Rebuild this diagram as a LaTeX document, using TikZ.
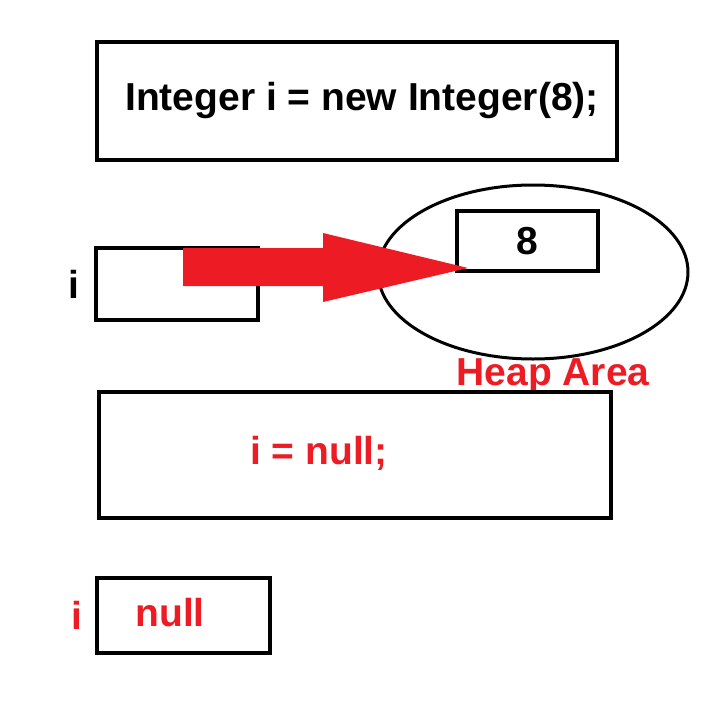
\documentclass[tikz,border=0pt]{standalone}
\usepackage{fontspec}
\setmainfont{Liberation Sans}
\usetikzlibrary{shapes.geometric, positioning}
\definecolor{paintred}{HTML}{ED1C24}

\begin{document}
\begin{tikzpicture}[
  x=1pt, y=-1pt,
  every node/.style={font=\fontsize{39}{41}\selectfont\bfseries, inner sep=0pt},
  membox/.style={draw=black, line width=3.5pt},
  redtxt/.style={text=paintred}
]
\useasboundingbox (0,0) rectangle (720,720);
% statement boxes
\node[membox, minimum width=520, minimum height=118] (decl) at (357,101) {};
\node (decltxt) at (362,101) {Integer i = new Integer(8);};
% reference i
\node[membox, minimum width=162, minimum height=72] (ibox) at (177,284) {};
\node[left=15pt of ibox] (ilbl) {i};
% heap
\node[ellipse, draw=black, line width=3pt, minimum width=310, minimum height=174] (heap) at (533,272) {};
\node[membox, minimum width=141, minimum height=60] (val) at (527.5,241) {8};
\node[redtxt] (heaplbl) at (553,376) {Heap Area};
% arrow from i to the object
\coordinate (tail) at (183,267);
\coordinate (tip) at (468,268);
\fill[paintred] ([yshift=19pt]tail) -- (323,248) -- (323,233) -- (tip)
  -- (323,302) -- (323,286) -- ([yshift=-19pt]tail) -- cycle;
% second statement
\node[membox, minimum width=512, minimum height=126] (assign) at (355,455) {};
\node[redtxt] (assigntxt) at (319,453) {i = null;};
% i after assignment
\node[membox, minimum width=173, minimum height=75] (nullbox) at (183.5,615.5) {};
\node[redtxt] (nulltxt) at (170,613) {null};
\node[redtxt, left=13pt of nullbox] (ilbl2) {i};
\end{tikzpicture}
\end{document}
